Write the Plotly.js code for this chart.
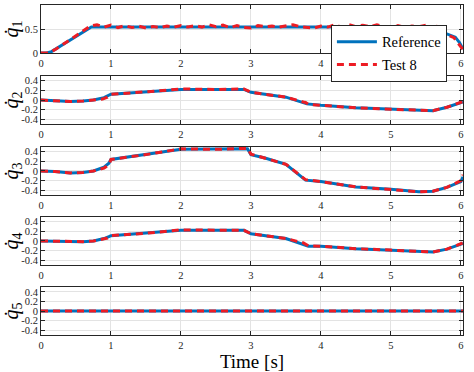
<!DOCTYPE html>
<html>
<head>
<meta charset="utf-8">
<script src="https://cdn.plot.ly/plotly-3.0.1.min.js"></script>
<style>html,body{margin:0;padding:0;background:#fff;}#chart{width:474px;height:372px;}</style>
</head>
<body>
<div id="chart"></div>
<script>
// ---- data ----
const seriesNames = ['Reference', 'Test 8'];
const xTickVals = [0, 1, 2, 3, 4, 5, 6];
const xTickText = ['0', '1', '2', '3', '4', '5', '6'];
const yTickVals1 = [0, 0.5, 1];
const yTickText1 = ['0', '0.5', '1'];
const yTickVals = [-0.4, -0.2, 0, 0.2, 0.4];
const yTickText = ['-0.4', '-0.2', '0', '0.2', '0.4'];
const yLabels = ['<i>q̇</i><sub>1</sub>', '<i>q̇</i><sub>2</sub>', '<i>q̇</i><sub>3</sub>', '<i>q̇</i><sub>4</sub>', '<i>q̇</i><sub>5</sub>'];

// joint 1
const tRef1 = [0, 0.08, 0.15, 0.72, 5.70, 5.76, 5.92, 5.98, 6.03];
const ref1 = [0, 0, 0.03, 0.54, 0.54, 0.42, 0.33, 0.22, 0.08];
const tTest1 = [0, 0.1, 0.2, 0.3, 0.4, 0.5, 0.6, 0.7, 0.8, 0.9, 1.0, 1.1, 1.2, 1.3, 1.4, 1.5, 1.6, 1.7, 1.8, 1.9, 2.0, 2.1, 2.2, 2.3, 2.4, 2.5, 2.6, 2.7, 2.8, 2.9, 3.0, 3.1, 3.2, 3.3, 3.4, 3.5, 3.6, 3.7, 3.8, 3.9, 4.0, 4.1, 4.2, 4.3, 4.4, 4.5, 4.6, 4.7, 4.8, 4.9, 5.0, 5.1, 5.2, 5.3, 5.4, 5.5, 5.6, 5.7, 5.8, 5.9, 6.0, 6.03];
const test1 = [0, 0.0, 0.07, 0.16, 0.26, 0.36, 0.46, 0.56, 0.59, 0.54, 0.58, 0.53, 0.57, 0.53, 0.56, 0.52, 0.55, 0.53, 0.56, 0.54, 0.57, 0.54, 0.57, 0.54, 0.59, 0.55, 0.58, 0.53, 0.57, 0.53, 0.52, 0.57, 0.55, 0.56, 0.54, 0.56, 0.59, 0.55, 0.53, 0.52, 0.56, 0.54, 0.59, 0.53, 0.59, 0.55, 0.58, 0.55, 0.59, 0.55, 0.51, 0.57, 0.53, 0.56, 0.55, 0.58, 0.54, 0.57, 0.38, 0.32, 0.13, 0.07];

// joint 2
const tRef2 = [0, 0.2, 0.42, 0.6, 0.75, 0.9, 0.97, 1.0, 2.0, 2.9, 3.0, 3.5, 3.8, 4.0, 4.5, 5.0, 5.5, 5.6, 5.8, 6.03];
const ref2 = [0, -0.01, -0.03, -0.02, 0, 0.05, 0.10, 0.12, 0.22, 0.22, 0.16, 0.06, -0.08, -0.11, -0.16, -0.19, -0.22, -0.22, -0.15, -0.04];
const tTest2 = [0, 0.2, 0.42, 0.6, 0.75, 0.88, 0.95, 1.0, 1.5, 2.0, 2.5, 2.9, 3.0, 3.5, 3.75, 3.78, 3.82, 4.0, 4.5, 5.0, 5.5, 5.6, 5.8, 6.03];
const test2 = [0, -0.01, -0.03, -0.02, 0, 0.02, 0.06, 0.12, 0.17, 0.23, 0.22, 0.23, 0.16, 0.06, -0.04, -0.05, -0.09, -0.11, -0.16, -0.19, -0.22, -0.22, -0.15, -0.03];

// joint 3
const tRef3 = [0, 0.2, 0.42, 0.6, 0.75, 0.9, 0.97, 1.0, 2.0, 2.5, 2.95, 3.0, 3.2, 3.5, 3.78, 4.0, 4.5, 5.0, 5.4, 5.6, 5.8, 6.0, 6.03];
const ref3 = [0, -0.01, -0.04, -0.03, 0, 0.08, 0.16, 0.24, 0.45, 0.46, 0.46, 0.34, 0.27, 0.14, -0.19, -0.22, -0.33, -0.38, -0.43, -0.42, -0.34, -0.22, -0.12];
const tTest3 = [0, 0.2, 0.42, 0.6, 0.75, 0.9, 0.97, 1.0, 1.5, 2.0, 2.5, 2.95, 3.0, 3.2, 3.5, 3.78, 4.0, 4.5, 5.0, 5.4, 5.6, 5.8, 6.0, 6.03];
const test3 = [0, -0.01, -0.04, -0.03, 0, 0.06, 0.13, 0.24, 0.34, 0.46, 0.45, 0.47, 0.35, 0.27, 0.14, -0.18, -0.22, -0.33, -0.38, -0.43, -0.42, -0.34, -0.20, -0.08];

// joint 4
const tRef4 = [0, 0.2, 0.42, 0.6, 0.75, 0.9, 0.97, 1.0, 2.0, 2.9, 3.0, 3.5, 3.82, 4.0, 4.5, 5.0, 5.5, 5.6, 5.8, 6.03];
const ref4 = [0, -0.01, -0.02, -0.015, 0, 0.05, 0.09, 0.11, 0.22, 0.22, 0.15, 0.05, -0.11, -0.11, -0.16, -0.19, -0.23, -0.23, -0.17, -0.05];
const tTest4 = [0, 0.2, 0.42, 0.6, 0.75, 0.88, 0.95, 1.0, 1.5, 2.0, 2.5, 2.9, 3.0, 3.5, 3.75, 3.78, 3.82, 4.0, 4.5, 5.0, 5.5, 5.6, 5.8, 6.03];
const test4 = [0, -0.01, -0.02, -0.015, 0, 0.03, 0.06, 0.11, 0.16, 0.23, 0.22, 0.22, 0.15, 0.05, -0.04, -0.06, -0.10, -0.11, -0.16, -0.19, -0.23, -0.23, -0.17, -0.04];

// joint 5
const tRef5 = [0, 6.03];
const ref5 = [0, 0];
const tTest5 = [0, 6.03];
const test5 = [0, 0];

// ---- build ----
const refT = [tRef1, tRef2, tRef3, tRef4, tRef5];
const refY = [ref1, ref2, ref3, ref4, ref5];
const testT = [tTest1, tTest2, tTest3, tTest4, tTest5];
const testY = [test1, test2, test3, test4, test5];

const BLUE = '#0072BD';
const RED = '#ED1C24';
const FONT = "'Liberation Serif', 'DejaVu Serif', serif";
const traces = [];
for (let i = 0; i < 5; i++) {
  const xa = i === 0 ? 'x' : 'x' + (i + 1);
  const ya = i === 0 ? 'y' : 'y' + (i + 1);
  traces.push({x: refT[i], y: refY[i], xaxis: xa, yaxis: ya, type: 'scatter', mode: 'lines',
    name: seriesNames[0], legendgroup: 'ref', showlegend: i === 0, line: {color: BLUE, width: 3}});
}
for (let i = 0; i < 5; i++) {
  const xa = i === 0 ? 'x' : 'x' + (i + 1);
  const ya = i === 0 ? 'y' : 'y' + (i + 1);
  traces.push({x: testT[i], y: testY[i], xaxis: xa, yaxis: ya, type: 'scatter', mode: 'lines',
    name: seriesNames[1], legendgroup: 'test', showlegend: i === 0, line: {color: RED, width: 3, dash: '7px,5px'}});
}

const domains = [[0.8545, 1], [0.639, 0.785], [0.424, 0.570], [0.212, 0.358], [0, 0.145]];
const layout = {
  width: 474, height: 372,
  margin: {l: 41, r: 11, t: 5, b: 37},
  paper_bgcolor: '#fff', plot_bgcolor: '#fff',
  font: {family: FONT, color: '#262626', size: 10.5},
  showlegend: true,
  legend: {x: 0.687, y: 0.94, xanchor: 'left', yanchor: 'top', bgcolor: '#fff',
    bordercolor: '#262626', borderwidth: 1, font: {family: FONT, size: 14.5, color: '#000'},
    itemwidth: 40, tracegroupgap: 1}
};
for (let i = 0; i < 5; i++) {
  const xk = i === 0 ? 'xaxis' : 'xaxis' + (i + 1);
  const yk = i === 0 ? 'yaxis' : 'yaxis' + (i + 1);
  const ya = i === 0 ? 'y' : 'y' + (i + 1);
  const xa = i === 0 ? 'x' : 'x' + (i + 1);
  layout[xk] = {
    anchor: ya, domain: [0, 1], range: [0, 6.03],
    tickmode: 'array', tickvals: xTickVals, ticktext: xTickText,
    ticks: 'inside', ticklen: 4, tickcolor: '#262626', mirror: 'ticks',
    showline: true, linecolor: '#262626', linewidth: 1,
    showgrid: true, gridcolor: '#e3e3e3', zeroline: false,
    tickfont: {family: FONT, size: 10.5, color: '#262626'}, fixedrange: true
  };
  if (i === 4) {
    layout[xk].title = {text: 'Time [s]', font: {family: FONT, size: 19, color: '#000'}, standoff: 4};
  }
  layout[yk] = {
    anchor: xa, domain: domains[i],
    range: i === 0 ? [0, 1] : [-0.5, 0.5],
    tickmode: 'array',
    tickvals: i === 0 ? yTickVals1 : yTickVals,
    ticktext: i === 0 ? yTickText1 : yTickText,
    ticks: 'inside', ticklen: 4, tickcolor: '#262626', mirror: 'ticks',
    showline: true, linecolor: '#262626', linewidth: 1,
    showgrid: true, gridcolor: '#e3e3e3', zeroline: false,
    tickfont: {family: FONT, size: 10.5, color: '#262626'}, fixedrange: true,
    title: {text: yLabels[i], font: {family: FONT, size: 20, color: '#000'}, standoff: 0}
  };
}
Plotly.newPlot('chart', traces, layout, {staticPlot: true, displayModeBar: false});
</script>
</body>
</html>
